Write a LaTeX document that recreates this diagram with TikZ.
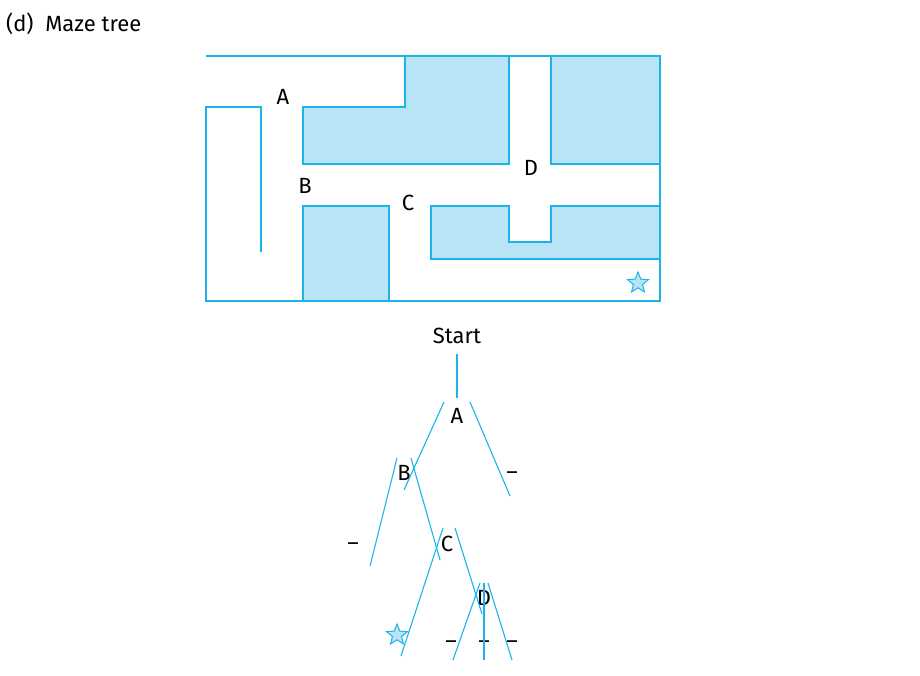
\documentclass[tikz,border=0pt]{standalone}
\usepackage{fontspec}
\setmainfont{Fira Sans}
\usetikzlibrary{shapes.geometric}
\definecolor{ln}{HTML}{1AB4E8}
\definecolor{fl}{HTML}{B9E4F6}
\begin{document}
\begin{tikzpicture}[x=1pt,y=-1pt,
  wall/.style={draw=ln,line width=1.3pt},
  blk/.style={draw=ln,fill=fl,line width=1.3pt},
  lbl/.style={font=\fontsize{22}{26}\selectfont,inner sep=0pt},
  edge/.style={draw=ln,line width=1.1pt},
  starnode/.style={star,star points=5,star point ratio=2.3,draw=ln,fill=fl,line width=1pt,minimum size=22pt,inner sep=0pt}]
\useasboundingbox (0,0) rectangle (920,676);
\node[lbl,anchor=west] (title) at (6,24) {(d)\ \ Maze tree};
% maze
\draw[blk] (303,107)--(405,107)--(405,56)--(509,56)--(509,164)--(303,164)--cycle;
\draw[blk] (551,56)--(660,56)--(660,164)--(551,164)--cycle;
\draw[blk] (303,206)--(389,206)--(389,301)--(303,301)--cycle;
\draw[blk] (431,206)--(509,206)--(509,242)--(551,242)--(551,206)--(660,206)--(660,259)--(431,259)--cycle;
\draw[wall] (206,56)--(660,56)--(660,301)--(206,301)--(206,107)--(261,107)--(261,252);
\node[starnode] (mstar) at (638,283) {};
\node[lbl] (mA) at (283,97) {A};
\node[lbl] (mB) at (305,186) {B};
\node[lbl] (mC) at (408,203) {C};
\node[lbl] (mD) at (531,168) {D};
% tree
\node[lbl] (start) at (457,336) {Start};
\node[lbl] (A) at (457,416) {A};
\node[lbl] (B) at (404,473) {B};
\node[lbl] (dA) at (512,476) {–};
\node[lbl] (dB) at (353,547) {–};
\node[lbl] (C) at (447,544) {C};
\node[starnode] (tstar) at (397,635) {};
\node[lbl] (D) at (484,598) {D};
\node[lbl] (d1) at (451,645) {–};
\node[lbl] (d2) at (484,645) {–};
\node[lbl] (d3) at (512,645) {–};
\coordinate (s1) at (457,354); \coordinate (s2) at (457,398);
\draw[edge] (s1)--(s2);
\draw[edge] ([xshift=-13pt,yshift=14pt]A.center)--([yshift=-17pt]B.center);
\draw[edge] ([xshift=13pt,yshift=14pt]A.center)--([xshift=-2pt,yshift=-20pt]dA.center);
\draw[edge] ([xshift=-7pt,yshift=15pt]B.center)--([xshift=17pt,yshift=-19pt]dB.center);
\draw[edge] ([xshift=7pt,yshift=15pt]B.center)--([xshift=-7pt,yshift=-16pt]C.center);
\draw[edge] ([xshift=-4pt,yshift=16pt]C.center)--([xshift=4pt,yshift=-21pt]tstar.center);
\draw[edge] ([xshift=8pt,yshift=16pt]C.center)--([xshift=-2pt,yshift=-16pt]D.center);
\draw[edge] ([xshift=-4pt,yshift=15pt]D.center)--([xshift=2pt,yshift=-15pt]d1.center);
\draw[edge] ([yshift=15pt]D.center)--([yshift=-15pt]d2.center);
\draw[edge] ([xshift=4pt,yshift=15pt]D.center)--([yshift=-15pt]d3.center);
\end{tikzpicture}
\end{document}
